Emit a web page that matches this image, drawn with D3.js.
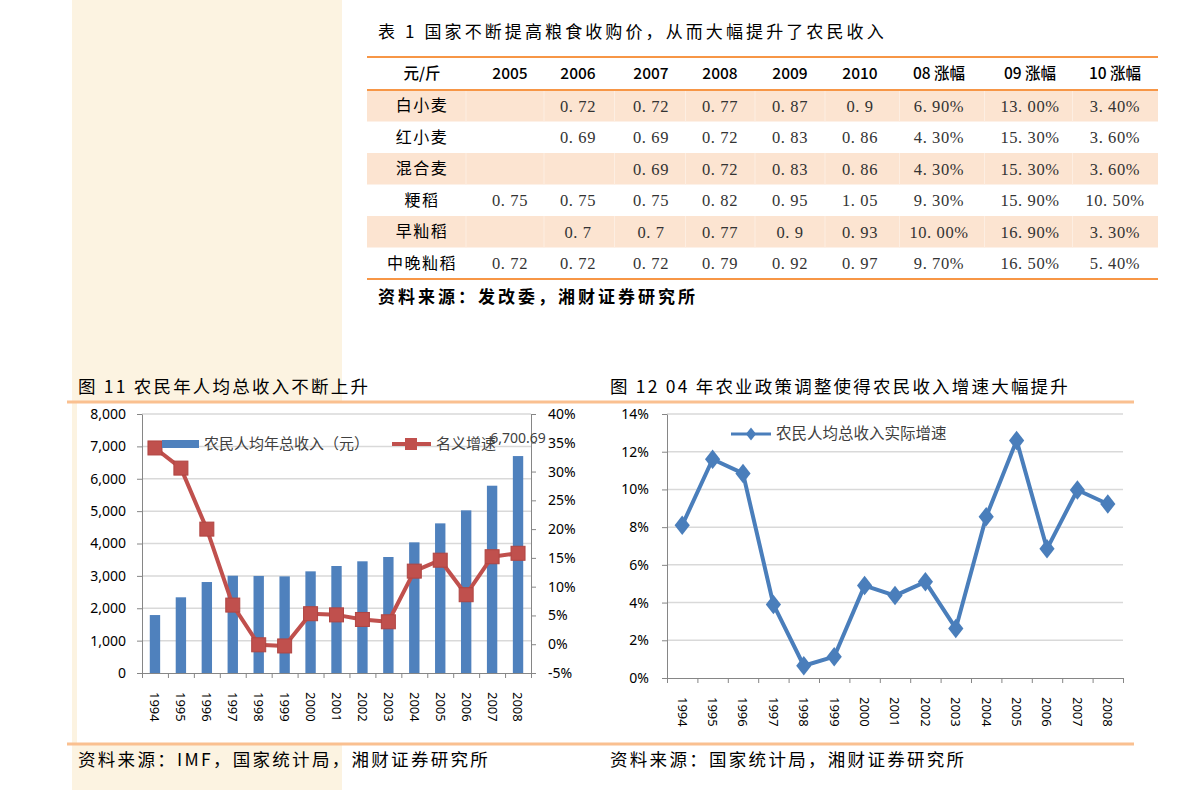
<!DOCTYPE html>
<html>
<head>
<meta charset="utf-8">
<script src="https://cdn.jsdelivr.net/npm/d3@7"></script>
<style>
  body { margin: 0; background: #fff; }
  svg { display: block; }
  text { font-family: "Noto Sans CJK SC", "Noto Sans", sans-serif; }
</style>
</head>
<body>
<svg id="page" width="1191" height="790"></svg>
<script>
// ---- table 1 data ----
const tableTitle = "表 1 国家不断提高粮食收购价，从而大幅提升了农民收入";
const tableHeader = ["元/斤", "2005", "2006", "2007", "2008", "2009", "2010", "08 涨幅", "09 涨幅", "10 涨幅"];
const grainNames = ["白小麦", "红小麦", "混合麦", "粳稻", "早籼稻", "中晚籼稻"];
const grainPrices = [
  ["", "0.72", "0.72", "0.77", "0.87", "0.9", "6.90%", "13.00%", "3.40%"],
  ["", "0.69", "0.69", "0.72", "0.83", "0.86", "4.30%", "15.30%", "3.60%"],
  ["", "", "0.69", "0.72", "0.83", "0.86", "4.30%", "15.30%", "3.60%"],
  ["0.75", "0.75", "0.75", "0.82", "0.95", "1.05", "9.30%", "15.90%", "10.50%"],
  ["", "0.7", "0.7", "0.77", "0.9", "0.93", "10.00%", "16.90%", "3.30%"],
  ["0.72", "0.72", "0.72", "0.79", "0.92", "0.97", "9.70%", "16.50%", "5.40%"]
];
const tableSource = "资料来源：发改委，湘财证券研究所";

// ---- figure 11 / 12 data ----
const years = ["1994", "1995", "1996", "1997", "1998", "1999", "2000", "2001",
               "2002", "2003", "2004", "2005", "2006", "2007", "2008"];
const incomeValues = [1790, 2338, 2810, 3005, 2998, 2985, 3140, 3305, 3450, 3583, 4036, 4622, 5024, 5785, 6700.69];
const nominalGrowth = [34.1, 30.6, 20.0, 6.8, -0.1, -0.3, 5.3, 5.1, 4.3, 3.9, 12.7, 14.6, 8.6, 15.2, 15.8];
const realGrowth = [8.1, 11.6, 10.85, 3.9, 0.65, 1.13, 4.9, 4.37, 5.1, 2.63, 8.55, 12.6, 6.85, 9.97, 9.23];
const incomeTicks = [0, 1000, 2000, 3000, 4000, 5000, 6000, 7000, 8000];
const nominalTicks = [-5, 0, 5, 10, 15, 20, 25, 30, 35, 40];
const realTicks = [0, 2, 4, 6, 8, 10, 12, 14];

const svg = d3.select("#page");
const cream = "#FCF3E1";
const axisGray = "#868686";
const gridGray = "#D9D9D9";

// cream side panel
svg.append("rect").attr("x", 72).attr("y", 0).attr("width", 270).attr("height", 401).attr("fill", cream);
svg.append("rect").attr("x", 72).attr("y", 401).attr("width", 5).attr("height", 344).attr("fill", cream);
svg.append("rect").attr("x", 72).attr("y", 745).attr("width", 270).attr("height", 45).attr("fill", cream);

// ================= table =================
const tbl = svg.append("g");
const colX = [422, 510, 578, 651, 720, 790, 860, 939, 1030, 1115];
const tLeft = 367, tRight = 1158, rowTop = 90, rowH = 31.5;

tbl.append("text").attr("x", 378).attr("y", 32).attr("dy", "0.35em")
  .style("font-size", "17px").style("letter-spacing", "3.1px").attr("fill", "#000")
  .text(tableTitle);

tbl.selectAll("rect.shade")
  .data(grainNames.filter((d, i) => i % 2 === 0))
  .join("rect")
  .attr("class", "shade")
  .attr("x", tLeft).attr("width", tRight - tLeft)
  .attr("y", (d, i) => rowTop + i * 2 * rowH).attr("height", rowH)
  .attr("fill", "#FCE4D1");

// faint cell separators in shaded rows
const sepX = colX.slice(0, -1).map((c, i) => (c + colX[i + 1]) / 2);
[0, 2, 4].forEach(r => {
  tbl.selectAll(null).data(sepX).join("line")
    .attr("x1", d => d).attr("x2", d => d)
    .attr("y1", rowTop + r * rowH).attr("y2", rowTop + (r + 1) * rowH)
    .attr("stroke", "#FDEEE2").attr("stroke-width", 1);
});

[57, rowTop, rowTop + 6 * rowH].forEach(y => {
  tbl.append("line").attr("x1", tLeft).attr("x2", tRight).attr("y1", y).attr("y2", y)
    .attr("stroke", "#F79646").attr("stroke-width", 2);
});

tbl.selectAll("text.head").data(tableHeader).join("text")
  .attr("class", "head")
  .attr("x", (d, i) => colX[i]).attr("y", 74).attr("dy", "0.35em")
  .attr("text-anchor", "middle")
  .style("font-size", "15.5px").style("font-weight", 500)
  .attr("fill", "#000")
  .text(d => d);

grainNames.forEach((name, r) => {
  const cy = rowTop + r * rowH + rowH / 2;
  tbl.append("text").attr("x", colX[0]).attr("y", cy).attr("dy", "0.35em")
    .attr("text-anchor", "middle").style("font-size", "16px").style("letter-spacing", "1.5px")
    .attr("fill", "#000").text(name);
  tbl.selectAll(null).data(grainPrices[r]).join("text")
    .attr("x", (d, i) => colX[i + 1]).attr("y", cy).attr("dy", "0.35em")
    .attr("text-anchor", "middle")
    .style("font-family", "'Liberation Serif', serif")
    .style("font-size", "16.5px").style("letter-spacing", "0.6px")
    .attr("fill", "#333")
    .text(d => d.replace(".", ". "));
});

tbl.append("text").attr("x", 378).attr("y", 297).attr("dy", "0.35em")
  .style("font-size", "17px").style("font-weight", 700).style("letter-spacing", "3px")
  .attr("fill", "#000").text(tableSource);

// ================= figure titles / rules / sources =================
const titles = [
  { x: 78, text: "图 11 农民年人均总收入不断上升" },
  { x: 610, text: "图 12 04 年农业政策调整使得农民收入增速大幅提升" }
];
const sources = [
  { x: 78, text: "资料来源：IMF，国家统计局，湘财证券研究所" },
  { x: 610, text: "资料来源：国家统计局，湘财证券研究所" }
];
svg.selectAll("text.ftitle").data(titles).join("text")
  .attr("class", "ftitle")
  .attr("x", d => d.x).attr("y", 387).attr("dy", "0.35em")
  .style("font-size", "17.5px").style("letter-spacing", "2.2px").attr("fill", "#000")
  .text(d => d.text);
svg.selectAll("text.fsrc").data(sources).join("text")
  .attr("class", "fsrc")
  .attr("x", d => d.x).attr("y", 760).attr("dy", "0.35em")
  .style("font-size", "17.5px").style("letter-spacing", "2.3px").attr("fill", "#000")
  .text(d => d.text);
[402, 744].forEach(y => {
  svg.append("line").attr("x1", 67).attr("x2", 1134).attr("y1", y).attr("y2", y)
    .attr("stroke", "#FAC090").attr("stroke-width", 3);
});

// helper: style an axis group
function styleAxis(g, fontSize) {
  g.select(".domain").attr("stroke", axisGray);
  g.selectAll(".tick line").attr("stroke", axisGray);
  g.selectAll(".tick text").attr("fill", "#000")
    .style("font-family", "'Noto Sans', sans-serif").style("font-size", fontSize);
}

// ================= figure 11 =================
const L = { left: 142, right: 531, top: 414, bottom: 673 };
const x1 = d3.scaleBand().domain(years).range([L.left, L.right]);
const yInc = d3.scaleLinear().domain([0, 8000]).range([L.bottom, L.top]);
const yNom = d3.scaleLinear().domain([-5, 40]).range([L.bottom, L.top]);
const f11 = svg.append("g");

f11.append("g").selectAll("line").data(incomeTicks.slice(1)).join("line")
  .attr("x1", L.left).attr("x2", L.right)
  .attr("y1", d => yInc(d)).attr("y2", d => yInc(d))
  .attr("stroke", gridGray).attr("stroke-width", 1.5);

const barW = x1.bandwidth() * 0.4;
f11.append("g").attr("fill", "#4F81BD")
  .selectAll("rect").data(incomeValues).join("rect")
  .attr("x", (d, i) => x1(years[i]) + (x1.bandwidth() - barW) / 2)
  .attr("width", barW)
  .attr("y", d => yInc(d))
  .attr("height", d => yInc(0) - yInc(d));

f11.append("g").attr("transform", `translate(${L.left},0)`)
  .call(d3.axisLeft(yInc).tickValues(incomeTicks).tickFormat(d3.format(",")).tickSize(5).tickSizeOuter(0).tickPadding(11))
  .call(g => styleAxis(g, "14px"));
f11.append("g").attr("transform", `translate(${L.right},0)`)
  .call(d3.axisRight(yNom).tickValues(nominalTicks).tickFormat(d => d + "%").tickSize(5).tickSizeOuter(0).tickPadding(12))
  .call(g => styleAxis(g, "14px"));

// category boundary ticks
f11.append("g").attr("transform", `translate(0,${L.bottom})`)
  .call(d3.axisBottom(d3.scaleLinear().domain([0, years.length]).range([L.left, L.right]))
    .ticks(years.length).tickFormat("").tickSize(5).tickSizeOuter(0))
  .call(g => styleAxis(g, "13px"));
f11.append("g").attr("transform", `translate(0,${L.bottom})`)
  .call(d3.axisBottom(x1).tickSize(0))
  .call(g => g.select(".domain").remove())
  .call(g => styleAxis(g, "13px"))
  .call(g => g.selectAll(".tick text")
    .attr("transform", "rotate(90)").attr("text-anchor", "start")
    .attr("x", 19).attr("y", 0).attr("dy", "0.35em"));

const nomLine = d3.line()
  .x((d, i) => x1(years[i]) + x1.bandwidth() / 2)
  .y(d => yNom(d));
f11.append("path").datum(nominalGrowth)
  .attr("d", nomLine).attr("fill", "none")
  .attr("stroke", "#C0504D").attr("stroke-width", 4).attr("stroke-linejoin", "round");
f11.append("g").selectAll("rect").data(nominalGrowth).join("rect")
  .attr("x", (d, i) => x1(years[i]) + x1.bandwidth() / 2 - 7)
  .attr("y", d => yNom(d) - 7)
  .attr("width", 14).attr("height", 14)
  .attr("fill", "#C0504D").attr("stroke", "#B04542").attr("stroke-width", 1);

// data label on last bar
f11.append("text")
  .attr("x", x1(years[years.length - 1]) + x1.bandwidth() / 2)
  .attr("y", 438).attr("dy", "0.35em").attr("text-anchor", "middle")
  .style("font-family", "'Noto Sans', sans-serif").style("font-size", "14px")
  .attr("fill", "#404040")
  .text(d3.format(",.2f")(incomeValues[incomeValues.length - 1]));

// legend
const lg1 = f11.append("g");
lg1.append("rect").attr("x", 162).attr("y", 440).attr("width", 37).attr("height", 8).attr("fill", "#4F81BD");
lg1.append("text").attr("x", 204).attr("y", 444).attr("dy", "0.35em")
  .style("font-size", "15px").attr("fill", "#404040").text("农民人均年总收入（元）");
lg1.append("line").attr("x1", 392).attr("x2", 431).attr("y1", 444).attr("y2", 444)
  .attr("stroke", "#C0504D").attr("stroke-width", 4);
lg1.append("rect").attr("x", 405).attr("y", 438).attr("width", 12).attr("height", 12).attr("fill", "#C0504D");
lg1.append("text").attr("x", 436).attr("y", 444).attr("dy", "0.35em")
  .style("font-size", "15px").attr("fill", "#404040").text("名义增速");

// ================= figure 12 =================
const R = { left: 667, right: 1123, top: 414, bottom: 678 };
const x2 = d3.scaleBand().domain(years).range([R.left, R.right]);
const yReal = d3.scaleLinear().domain([0, 14]).range([R.bottom, R.top]);
const f12 = svg.append("g");

f12.append("g").selectAll("line").data(realTicks.slice(1)).join("line")
  .attr("x1", R.left).attr("x2", R.right)
  .attr("y1", d => yReal(d)).attr("y2", d => yReal(d))
  .attr("stroke", gridGray).attr("stroke-width", 1.5);

f12.append("g").attr("transform", `translate(${R.left},0)`)
  .call(d3.axisLeft(yReal).tickValues(realTicks).tickFormat(d => d + "%").tickSize(5).tickSizeOuter(0).tickPadding(13))
  .call(g => styleAxis(g, "14px"));
f12.append("g").attr("transform", `translate(0,${R.bottom})`)
  .call(d3.axisBottom(d3.scaleLinear().domain([0, years.length]).range([R.left, R.right]))
    .ticks(years.length).tickFormat("").tickSize(5).tickSizeOuter(0))
  .call(g => styleAxis(g, "13px"));
f12.append("g").attr("transform", `translate(0,${R.bottom})`)
  .call(d3.axisBottom(x2).tickSize(0))
  .call(g => g.select(".domain").remove())
  .call(g => styleAxis(g, "13px"))
  .call(g => g.selectAll(".tick text")
    .attr("transform", "rotate(90)").attr("text-anchor", "start")
    .attr("x", 19).attr("y", 0).attr("dy", "0.35em"));

const realLine = d3.line()
  .x((d, i) => x2(years[i]) + x2.bandwidth() / 2)
  .y(d => yReal(d));
f12.append("path").datum(realGrowth)
  .attr("d", realLine).attr("fill", "none")
  .attr("stroke", "#4A7EBB").attr("stroke-width", 4).attr("stroke-linejoin", "round");
const diamond = d3.symbol().type(d3.symbolDiamond).size(110);
f12.append("g").selectAll("path").data(realGrowth).join("path")
  .attr("d", diamond)
  .attr("transform", (d, i) => `translate(${x2(years[i]) + x2.bandwidth() / 2},${yReal(d)}) scale(1.35,1)`)
  .attr("fill", "#4A7EBB");

const lg2 = f12.append("g");
lg2.append("line").attr("x1", 731).attr("x2", 771).attr("y1", 434).attr("y2", 434)
  .attr("stroke", "#4A7EBB").attr("stroke-width", 3);
lg2.append("path").attr("d", d3.symbol().type(d3.symbolDiamond).size(50))
  .attr("transform", "translate(751,434) scale(1.35,1)").attr("fill", "#4A7EBB");
lg2.append("text").attr("x", 776).attr("y", 434).attr("dy", "0.35em")
  .style("font-size", "15.5px").attr("fill", "#404040").text("农民人均总收入实际增速");
</script>
</body>
</html>
